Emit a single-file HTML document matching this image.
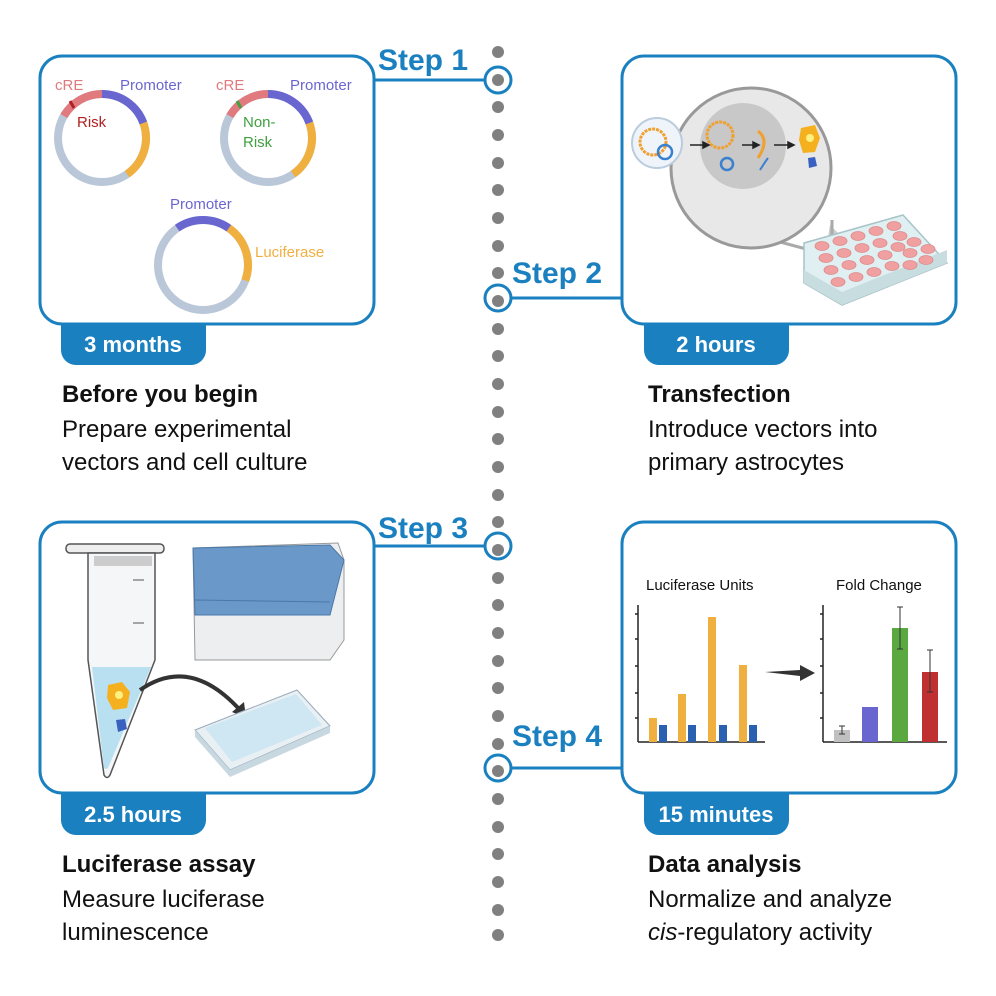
<!DOCTYPE html>
<html><head><meta charset="utf-8"><style>
html,body{margin:0;padding:0;background:#fff;}
svg{display:block;font-family:"Liberation Sans",Arial,sans-serif;}
</style></head><body>
<svg width="996" height="996" viewBox="0 0 996 996" xmlns="http://www.w3.org/2000/svg">
<!-- dotted line -->
<g fill="#808080">
<circle cx="498" cy="52" r="6"/><circle cx="498" cy="80" r="6"/><circle cx="498" cy="107" r="6"/><circle cx="498" cy="135" r="6"/><circle cx="498" cy="163" r="6"/><circle cx="498" cy="190" r="6"/><circle cx="498" cy="218" r="6"/><circle cx="498" cy="246" r="6"/><circle cx="498" cy="273" r="6"/><circle cx="498" cy="301" r="6"/><circle cx="498" cy="329" r="6"/><circle cx="498" cy="356" r="6"/><circle cx="498" cy="384" r="6"/><circle cx="498" cy="412" r="6"/><circle cx="498" cy="439" r="6"/><circle cx="498" cy="467" r="6"/><circle cx="498" cy="495" r="6"/><circle cx="498" cy="522" r="6"/><circle cx="498" cy="550" r="6"/><circle cx="498" cy="578" r="6"/><circle cx="498" cy="605" r="6"/><circle cx="498" cy="633" r="6"/><circle cx="498" cy="661" r="6"/><circle cx="498" cy="688" r="6"/><circle cx="498" cy="716" r="6"/><circle cx="498" cy="744" r="6"/><circle cx="498" cy="771" r="6"/><circle cx="498" cy="799" r="6"/><circle cx="498" cy="827" r="6"/><circle cx="498" cy="854" r="6"/><circle cx="498" cy="882" r="6"/><circle cx="498" cy="910" r="6"/><circle cx="498" cy="935" r="6"/>
</g>
<g fill="none" stroke="#1a80c0" stroke-width="3">
<line x1="374" y1="80" x2="486" y2="80"/><circle cx="498" cy="80" r="13"/>
<line x1="510" y1="298" x2="622" y2="298"/><circle cx="498" cy="298" r="13"/>
<line x1="374" y1="546" x2="486" y2="546"/><circle cx="498" cy="546" r="13"/>
<line x1="510" y1="768" x2="622" y2="768"/><circle cx="498" cy="768" r="13"/>
</g>
<g fill="#1a80c0" font-weight="bold" font-size="30">
<text x="378" y="70">Step 1</text>
<text x="512" y="283">Step 2</text>
<text x="378" y="538">Step 3</text>
<text x="512" y="746">Step 4</text>
</g>
<!-- tabs -->
<g fill="#1a80c0">
<path d="M61 320 H206 V350 a15 15 0 0 1 -15 15 H76 a15 15 0 0 1 -15 -15Z"/>
<path d="M644 320 H789 V350 a15 15 0 0 1 -15 15 H659 a15 15 0 0 1 -15 -15Z"/>
<path d="M61 790 H206 V820 a15 15 0 0 1 -15 15 H76 a15 15 0 0 1 -15 -15Z"/>
<path d="M644 790 H789 V820 a15 15 0 0 1 -15 15 H659 a15 15 0 0 1 -15 -15Z"/>
</g>
<g fill="#fff" font-weight="bold" font-size="22" text-anchor="middle">
<text x="133" y="352">3 months</text>
<text x="716" y="352">2 hours</text>
<text x="133" y="822">2.5 hours</text>
<text x="716" y="822">15 minutes</text>
</g>
<!-- panels -->
<g fill="#fff" stroke="#1a80c0" stroke-width="3">
<rect x="40" y="56" width="334" height="268" rx="22"/>
<rect x="622" y="56" width="334" height="268" rx="22"/>
<rect x="40" y="522" width="334" height="271" rx="22"/>
<rect x="622" y="522" width="334" height="271" rx="22"/>
</g>
<!-- captions -->
<g font-size="24" fill="#111">
<text x="62" y="402" font-weight="bold">Before you begin</text>
<text x="62" y="437">Prepare experimental</text>
<text x="62" y="470">vectors and cell culture</text>
<text x="648" y="402" font-weight="bold">Transfection</text>
<text x="648" y="437">Introduce vectors into</text>
<text x="648" y="470">primary astrocytes</text>
<text x="62" y="872" font-weight="bold">Luciferase assay</text>
<text x="62" y="907">Measure luciferase</text>
<text x="62" y="940">luminescence</text>
<text x="648" y="872" font-weight="bold">Data analysis</text>
<text x="648" y="907">Normalize and analyze</text>
<text x="648" y="940"><tspan font-style="italic">cis</tspan>-regulatory activity</text>
</g>
<!-- plasmids panel 1 -->
<g fill="none" stroke-width="8">
<circle cx="102" cy="138" r="44" stroke="#b9c7d8"/>
<circle cx="102" cy="138" r="44" stroke="#e07a7e" stroke-dasharray="46.1 300" transform="rotate(-150 102 138)"/>
<circle cx="102" cy="138" r="44" stroke="#6a66d0" stroke-dasharray="53.8 300" transform="rotate(-90 102 138)"/>
<circle cx="102" cy="138" r="44" stroke="#f0b040" stroke-dasharray="57.6 300" transform="rotate(-20 102 138)"/>
<circle cx="268" cy="138" r="44" stroke="#b9c7d8"/>
<circle cx="268" cy="138" r="44" stroke="#e07a7e" stroke-dasharray="46.1 300" transform="rotate(-150 268 138)"/>
<circle cx="268" cy="138" r="44" stroke="#6a66d0" stroke-dasharray="53.8 300" transform="rotate(-90 268 138)"/>
<circle cx="268" cy="138" r="44" stroke="#f0b040" stroke-dasharray="57.6 300" transform="rotate(-20 268 138)"/>
<circle cx="203" cy="265" r="45" stroke="#b9c7d8"/>
<circle cx="203" cy="265" r="45" stroke="#6a66d0" stroke-dasharray="55 300" transform="rotate(-125 203 265)"/>
<circle cx="203" cy="265" r="45" stroke="#f0b040" stroke-dasharray="58.9 300" transform="rotate(-55 203 265)"/>
</g>
<line x1="70" y1="101" x2="74" y2="108" stroke="#b02020" stroke-width="3"/>
<line x1="237" y1="101" x2="241" y2="108" stroke="#40a040" stroke-width="3"/>
<g font-size="15">
<text x="55" y="90" fill="#e07a7e">cRE</text>
<text x="120" y="90" fill="#6a66d0">Promoter</text>
<text x="77" y="127" fill="#b02020">Risk</text>
<text x="216" y="90" fill="#e07a7e">cRE</text>
<text x="290" y="90" fill="#6a66d0">Promoter</text>
<text x="243" y="127" fill="#40a040">Non-</text>
<text x="243" y="147" fill="#40a040">Risk</text>
<text x="170" y="209" fill="#6a66d0">Promoter</text>
<text x="255" y="257" fill="#f0b040">Luciferase</text>
</g>
<!-- panel 2 graphics -->
<polygon points="830,225 826,250 845,240" fill="#ccc"/>
<line x1="832" y1="220" x2="832" y2="250" stroke="#aaa" stroke-width="3"/>
<line x1="780" y1="242" x2="810" y2="250" stroke="#aaa" stroke-width="3"/>
<circle cx="751" cy="168" r="80" fill="#e8e8e8" stroke="#999" stroke-width="3"/>
<circle cx="743" cy="146" r="43" fill="#c8c8c8"/>
<circle cx="657" cy="143" r="25" fill="#eef4fa" stroke="#bcd" stroke-width="2"/>
<circle cx="653" cy="142" r="13" fill="none" stroke="#f0a030" stroke-width="3" stroke-dasharray="3 1"/>
<circle cx="665" cy="152" r="7" fill="none" stroke="#3a80d0" stroke-width="2.5"/>
<circle cx="720" cy="135" r="13" fill="none" stroke="#f0a030" stroke-width="3" stroke-dasharray="3 1"/>
<circle cx="727" cy="164" r="6" fill="none" stroke="#3a80d0" stroke-width="2.5"/>
<path d="M758 131 Q770 140 758 158" fill="none" stroke="#f0a030" stroke-width="3"/>
<path d="M760 170 Q765 162 768 158" fill="none" stroke="#3a80d0" stroke-width="2"/>
<g stroke="#222" stroke-width="1.5" fill="#222">
<line x1="690" y1="145" x2="703" y2="145"/><polygon points="703,142 709,145 703,148"/>
<line x1="742" y1="145" x2="753" y2="145"/><polygon points="753,142 759,145 753,148"/>
<line x1="774" y1="145" x2="788" y2="145"/><polygon points="788,142 794,145 788,148"/>
</g>
<path d="M801 128 L815 125 L820 138 L815 152 L803 153 L799 140Z" fill="#f5b020"/>
<circle cx="810" cy="138" r="4" fill="#fff080"/>
<path d="M808 158 L815 157 L817 166 L809 168Z" fill="#3a60c0"/>
<polygon points="804,243 903,215 947,263 842,305 804,283" fill="#dfeff2" stroke="#a8c4c8" stroke-width="1.5"/>
<polygon points="804,270 842,292 947,250 947,263 842,305 804,283" fill="#c8dde0"/>
<g fill="#f0a0a0" stroke="#d88" stroke-width="0.8">
<ellipse cx="822" cy="246" rx="7" ry="4.5"/><ellipse cx="840" cy="241" rx="7" ry="4.5"/><ellipse cx="858" cy="236" rx="7" ry="4.5"/><ellipse cx="876" cy="231" rx="7" ry="4.5"/><ellipse cx="894" cy="226" rx="7" ry="4.5"/><ellipse cx="900" cy="236" rx="7" ry="4.5"/>
<ellipse cx="826" cy="258" rx="7" ry="4.5"/><ellipse cx="844" cy="253" rx="7" ry="4.5"/><ellipse cx="862" cy="248" rx="7" ry="4.5"/><ellipse cx="880" cy="243" rx="7" ry="4.5"/><ellipse cx="898" cy="247" rx="7" ry="4.5"/><ellipse cx="914" cy="242" rx="7" ry="4.5"/>
<ellipse cx="831" cy="270" rx="7" ry="4.5"/><ellipse cx="849" cy="265" rx="7" ry="4.5"/><ellipse cx="867" cy="260" rx="7" ry="4.5"/><ellipse cx="885" cy="255" rx="7" ry="4.5"/><ellipse cx="910" cy="253" rx="7" ry="4.5"/><ellipse cx="928" cy="249" rx="7" ry="4.5"/>
<ellipse cx="838" cy="282" rx="7" ry="4.5"/><ellipse cx="856" cy="277" rx="7" ry="4.5"/><ellipse cx="874" cy="272" rx="7" ry="4.5"/><ellipse cx="892" cy="266" rx="7" ry="4.5"/><ellipse cx="910" cy="265" rx="7" ry="4.5"/><ellipse cx="926" cy="260" rx="7" ry="4.5"/>
</g>
<!-- panel 3 graphics -->
<rect x="66" y="544" width="98" height="9" rx="4" fill="#eee" stroke="#555" stroke-width="1.5"/>
<path d="M88 553 V660 L104 775 Q107 780 110 775 L155 660 V553Z" fill="#f4f6f8" stroke="#555" stroke-width="1.5"/>
<path d="M92 667 H151 L108 768 Q106 770 104 768Z" fill="#b8e0f0"/>
<rect x="94" y="556" width="58" height="10" fill="#ccc"/>
<line x1="133" y1="580" x2="144" y2="580" stroke="#555"/><line x1="133" y1="623" x2="144" y2="623" stroke="#555"/>
<path d="M108 685 L122 682 L130 692 L127 708 L113 710 L107 698Z" fill="#f5b020"/>
<circle cx="119" cy="695" r="4" fill="#fff080"/>
<path d="M116 720 L125 719 L127 729 L118 732Z" fill="#3a60c0"/>
<path d="M140 690 Q190 655 240 710" fill="none" stroke="#333" stroke-width="4"/>
<polygon points="232,712 246,718 244,702" fill="#333"/>
<path d="M193 548 L338 543 L344 560 V640 L330 660 H195 Z" fill="#eceef0" stroke="#999" stroke-width="1"/>
<path d="M193 548 L330 545 L344 560 L330 615 H195 Z" fill="#6a98c8" stroke="#4a78a8" stroke-width="1"/>
<line x1="195" y1="600" x2="330" y2="602" stroke="#4a78a8"/>
<polygon points="195,730 297,690 330,726 230,770" fill="#e8f0f4" stroke="#9ab" stroke-width="1"/>
<polygon points="195,730 230,770 330,726 330,733 230,777 195,737" fill="#c8d8e0"/>
<g fill="#cfe6f3">
<polygon points="205,728 296,694 322,725 232,762"/>
</g>
<!-- panel 4 charts -->
<g font-size="15" fill="#111">
<text x="646" y="590">Luciferase Units</text>
<text x="836" y="590">Fold Change</text>
</g>
<g stroke="#222" stroke-width="1.5">
<line x1="638" y1="605" x2="638" y2="742"/><line x1="638" y1="742" x2="765" y2="742"/>
<line x1="823" y1="605" x2="823" y2="742"/><line x1="823" y1="742" x2="947" y2="742"/>
<line x1="635" y1="614" x2="638" y2="614"/><line x1="635" y1="639" x2="638" y2="639"/><line x1="635" y1="666" x2="638" y2="666"/><line x1="635" y1="693" x2="638" y2="693"/><line x1="635" y1="718" x2="638" y2="718"/>
<line x1="820" y1="614" x2="823" y2="614"/><line x1="820" y1="639" x2="823" y2="639"/><line x1="820" y1="666" x2="823" y2="666"/><line x1="820" y1="693" x2="823" y2="693"/><line x1="820" y1="718" x2="823" y2="718"/>
</g>
<g fill="#f0b040">
<rect x="649" y="718" width="8" height="24"/><rect x="678" y="694" width="8" height="48"/><rect x="708" y="617" width="8" height="125"/><rect x="739" y="665" width="8" height="77"/>
</g>
<g fill="#2a60b0">
<rect x="659" y="725" width="8" height="17"/><rect x="688" y="725" width="8" height="17"/><rect x="719" y="725" width="8" height="17"/><rect x="749" y="725" width="8" height="17"/>
</g>
<polygon points="765,672 800,670 800,665 815,673 800,681 800,676" fill="#333"/>
<rect x="834" y="730" width="16" height="12" fill="#c0c0c0"/>
<rect x="862" y="707" width="16" height="35" fill="#6a66d0"/>
<rect x="892" y="628" width="16" height="114" fill="#5aa840"/>
<rect x="922" y="672" width="16" height="70" fill="#c03030"/>
<g stroke="#333" stroke-width="1">
<line x1="842" y1="726" x2="842" y2="734"/><line x1="839" y1="726" x2="845" y2="726"/><line x1="839" y1="734" x2="845" y2="734"/>
<line x1="900" y1="607" x2="900" y2="649"/><line x1="897" y1="607" x2="903" y2="607"/><line x1="897" y1="649" x2="903" y2="649"/>
<line x1="930" y1="650" x2="930" y2="692"/><line x1="927" y1="650" x2="933" y2="650"/><line x1="927" y1="692" x2="933" y2="692"/>
</g>
</svg>
</body></html>
